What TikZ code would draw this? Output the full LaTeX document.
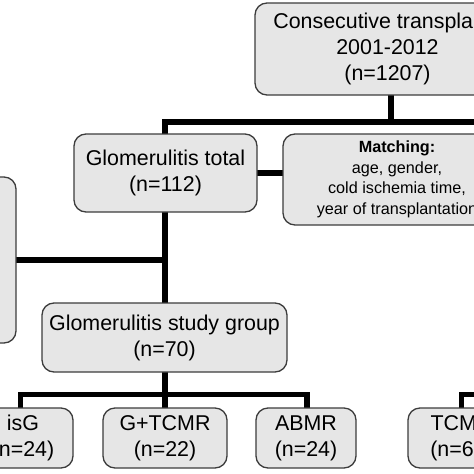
\documentclass[tikz,border=0pt]{standalone}
\usepackage{fontspec}
\setmainfont{Liberation Sans}
\usetikzlibrary{backgrounds}
\definecolor{boxgray}{HTML}{E6E6E6}
\definecolor{boxedge}{HTML}{3C3C3C}
\tikzset{
  box/.style={draw=boxedge, line width=1.3pt, fill=boxgray, rounded corners=12pt,
    align=center, inner sep=0pt, font=\fontsize{21.4}{26}\selectfont},
  smallbox/.style={box, font=\fontsize{16.2}{20.5}\selectfont},
  conn/.style={line width=5.5pt, black, line join=miter, line cap=rect}
}
\begin{document}
\begin{tikzpicture}[x=1pt,y=-1pt]
\useasboundingbox (0,0) rectangle (474,474);
\clip (0,0) rectangle (474,474);
% nodes
\node[box, minimum width=265pt, minimum height=92pt] (top) at (387.5,49)
  {Consecutive transplants\\2001-2012\\(n=1207)};
\node[box, minimum width=183pt, minimum height=78pt] (gtot) at (165.5,173)
  {Glomerulitis total\\(n=112)};
\node[smallbox, minimum width=228pt, minimum height=91pt] (match) at (397,179.5)
  {\textbf{Matching:}\\age, gender,\\cold ischemia time,\\year of transplantation};
\node[box, minimum width=116pt, minimum height=166pt] (left) at (-42,260) {};
\node[box, minimum width=245pt, minimum height=69pt] (study) at (164.5,337.5)
  {Glomerulitis study group\\(n=70)};
\node[box, minimum width=100pt, minimum height=60pt] (isg) at (23,438)
  {isG\\(n=24)};
\node[box, minimum width=124pt, minimum height=60pt] (gtcmr) at (165,438)
  {G+TCMR\\(n=22)};
\node[box, minimum width=100pt, minimum height=60pt] (abmr) at (306,438)
  {ABMR\\(n=24)};
\node[box, minimum width=107pt, minimum height=60pt] (tcmr) at (461.5,438)
  {TCMR\\(n=64)};
% junction coordinates
\coordinate (j1) at (391,122);
\coordinate (j2) at (165,122);
\coordinate (jr) at (490,122);
\coordinate (j3) at (165,260);
\coordinate (j4) at (165,394.5);
\coordinate (j5) at (20.5,394.5);
\coordinate (j6) at (307,394.5);
\coordinate (j7) at (461.5,394.5);
\coordinate (j8) at (490,394.5);
\begin{scope}[on background layer]
\draw[conn] (top.south -| j1) -- (j1);
\draw[conn] (jr) -- (j2) -- (gtot.north -| j2);
\draw[conn] (gtot.east) -- (match.west |- gtot.east);
\draw[conn] (gtot.south -| j2) -- (study.north -| j2);
\draw[conn] (left.east |- j3) -- (j3);
\draw[conn] (study.south -| j4) -- (j4);
\draw[conn] (isg.north -| j5) -- (j5) -- (j6) -- (abmr.north -| j6);
\draw[conn] (j4) -- (gtcmr.north -| j4);
\draw[conn] (tcmr.north -| j7) -- (j7) -- (j8);
\end{scope}
\end{tikzpicture}
\end{document}
